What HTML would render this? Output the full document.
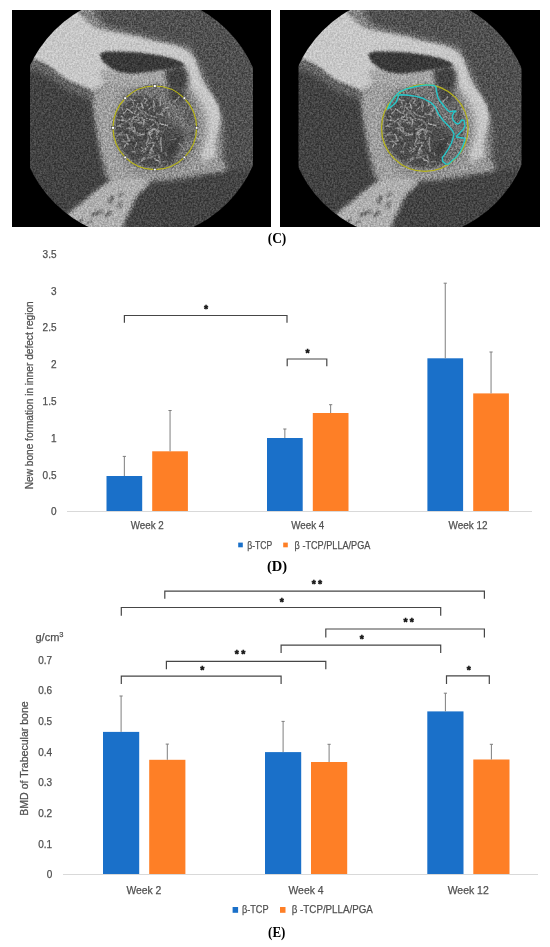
<!DOCTYPE html>
<html><head><meta charset="utf-8"><title>Figure</title>
<style>
html,body{margin:0;padding:0;background:#fff;}
body{width:550px;height:947px;overflow:hidden;}
svg{display:block;}
text{font-family:"Liberation Sans",Arial,sans-serif;}
.tk,.tk2,.yt,.wk,.lg{stroke:#505050;stroke-width:0.25px;}
.tk{font-size:10px;fill:#505050;text-anchor:end;}
.tk2{font-size:10px;fill:#505050;}
.yt{font-size:10px;fill:#505050;text-anchor:middle;}
.wk{font-size:10.4px;fill:#505050;text-anchor:middle;}
.lg{font-size:11px;fill:#505050;}
.st{font-size:10.5px;fill:#111;stroke:#111;stroke-width:0.5px;text-anchor:middle;font-weight:bold;}
.pl{font-family:"Liberation Serif","Times New Roman",serif;font-size:15.5px;font-weight:bold;fill:#000;}
</style></head><body>
<svg width="550" height="947" viewBox="0 0 550 947">
<defs><filter color-interpolation-filters="sRGB" id="Lb1_2" x="-50%" y="-50%" width="200%" height="200%"><feGaussianBlur stdDeviation="1.2"/></filter>
<filter color-interpolation-filters="sRGB" id="Lb1_3" x="-50%" y="-50%" width="200%" height="200%"><feGaussianBlur stdDeviation="1.3"/></filter>
<filter color-interpolation-filters="sRGB" id="Lb1_8" x="-50%" y="-50%" width="200%" height="200%"><feGaussianBlur stdDeviation="1.8"/></filter>
<filter color-interpolation-filters="sRGB" id="Lb2" x="-50%" y="-50%" width="200%" height="200%"><feGaussianBlur stdDeviation="2"/></filter>
<filter color-interpolation-filters="sRGB" id="Lb2_2" x="-50%" y="-50%" width="200%" height="200%"><feGaussianBlur stdDeviation="2.2"/></filter>
<filter color-interpolation-filters="sRGB" id="Lb2_5" x="-50%" y="-50%" width="200%" height="200%"><feGaussianBlur stdDeviation="2.5"/></filter>
<filter color-interpolation-filters="sRGB" id="Lb3" x="-50%" y="-50%" width="200%" height="200%"><feGaussianBlur stdDeviation="3"/></filter>
<filter color-interpolation-filters="sRGB" id="Lb4" x="-50%" y="-50%" width="200%" height="200%"><feGaussianBlur stdDeviation="4"/></filter>
<filter color-interpolation-filters="sRGB" id="Lsoft" x="-10%" y="-10%" width="120%" height="120%"><feGaussianBlur stdDeviation="0.7"/></filter><filter color-interpolation-filters="sRGB" id="Lnoise" x="0" y="0" width="100%" height="100%"><feTurbulence type="fractalNoise" baseFrequency="0.55" numOctaves="3" seed="5"/><feGaussianBlur stdDeviation="0.7"/><feColorMatrix type="matrix" values="0.33 0.33 0.33 0 0  0.33 0.33 0.33 0 0  0.33 0.33 0.33 0 0  0 0 0 0 1"/><feComponentTransfer><feFuncR type="linear" slope="4" intercept="-1.5"/><feFuncG type="linear" slope="4" intercept="-1.5"/><feFuncB type="linear" slope="4" intercept="-1.5"/></feComponentTransfer></filter></defs>
<rect x="12" y="10" width="259" height="217" fill="#000"/>
<clipPath id="Lclip"><path d="M30 10H253V227H30Z"/></clipPath>
<clipPath id="Ldisk"><circle cx="141" cy="116.6" r="122.2"/></clipPath>
<g clip-path="url(#Lclip)"><g clip-path="url(#Ldisk)"><g transform="translate(0 0)"><rect x="0" y="0" width="270" height="240" fill="#515151"/>
<polygon points="20.0,40.0 95.0,25.0 150.0,38.0 190.0,48.0 205.0,80.0 222.0,120.0 222.0,160.0 200.0,176.0 160.0,180.0 150.0,182.0 144.0,187.0 139.7,191.0 134.0,200.0 130.0,209.8 125.0,219.0 120.7,232.0 55.0,232.0 40.0,150.0" fill="#9c9c9c" filter="url(#Lb3)"/>
<polygon points="0.0,57.0 30.0,58.5 40.0,61.0 52.0,67.5 64.0,78.6 73.5,82.0 90.0,88.0 93.6,110.0 100.0,130.0 103.4,150.0 111.0,165.3 113.6,175.4 108.5,183.0 95.8,192.0 85.6,200.9 75.4,208.5 67.8,214.9 62.7,218.7 58.0,232.0 0.0,232.0" fill="#434343" filter="url(#Lb2)"/>
<polygon points="0.0,56.0 30.0,57.0 41.5,61.6 51.3,67.5 61.0,75.4 71.0,82.2 80.8,85.2 88.6,89.0 92.5,95.0 93.0,101.0 85.0,97.0 75.0,93.0 63.0,87.0 52.0,79.0 40.0,71.5 30.0,68.0 0.0,67.0" fill="#6c6c6c" filter="url(#Lb3)"/>
<polygon points="120.7,232.0 125.0,219.0 130.0,209.8 134.0,200.0 139.7,191.0 144.0,187.0 150.0,182.0 156.0,180.0 175.0,182.0 195.0,179.0 210.0,175.0 228.0,171.0 260.0,168.0 260.0,232.0" fill="#444444" filter="url(#Lb2_5)"/>
<polygon points="70.0,0.0 90.0,0.0 100.0,22.0 110.0,30.0 95.0,32.0 80.0,20.0" fill="#888888" filter="url(#Lb3)"/>
<polygon points="0.0,0.0 72.0,0.0 80.0,14.0 87.0,21.5 93.5,26.5 99.3,29.5 111.0,32.0 125.5,34.5 140.0,37.5 153.6,41.5 174.0,45.3 186.7,50.4 194.3,58.0 198.0,68.0 201.0,78.0 206.0,87.0 213.0,96.0 218.5,106.0 220.5,118.0 218.5,128.0 215.0,140.0 214.5,150.0 216.0,158.0 212.0,166.0 204.0,166.0 200.0,152.0 197.5,130.0 196.0,112.0 192.0,94.0 190.0,81.0 186.0,70.0 178.0,72.0 150.0,74.0 125.0,76.0 112.0,80.0 100.0,86.0 92.0,90.0 80.8,85.2 71.0,81.5 61.0,75.0 51.3,67.0 41.5,61.2 30.0,57.6 0.0,55.5" fill="#c8c8c8" filter="url(#Lb1_8)"/>
<circle cx="154.8" cy="127.8" r="52" fill="#949494" filter="url(#Lb3)"/>
<polygon points="98.0,92.0 118.0,86.0 120.0,110.0 116.0,140.0 122.0,165.0 135.0,178.0 150.0,182.0 140.0,192.0 120.0,190.0 106.0,176.0 100.0,150.0 95.0,120.0" fill="#a0a0a0" filter="url(#Lb2_5)"/>
<polygon points="58.0,232.0 62.7,218.7 67.8,214.9 75.4,208.5 85.6,200.9 95.8,192.0 103.6,185.8 115.0,180.0 130.0,178.0 150.0,180.0 144.0,187.0 139.7,191.0 134.0,200.0 130.0,209.8 125.0,219.0 120.7,232.0" fill="#b0b0b0" filter="url(#Lb2)"/>
<ellipse cx="97" cy="213" rx="7" ry="2.2" transform="rotate(-25 97 213)" fill="#707070" filter="url(#Lb1_2)"/>
<ellipse cx="111" cy="200" rx="2.5" ry="5" transform="rotate(20 111 200)" fill="#767676" filter="url(#Lb1_2)"/>
<ellipse cx="121" cy="194.5" rx="3.5" ry="1.8" transform="rotate(-30 121 194.5)" fill="#7a7a7a" filter="url(#Lb1_2)"/>
<ellipse cx="80" cy="221" rx="4" ry="1.5" transform="rotate(-30 80 221)" fill="#7a7a7a" filter="url(#Lb1_2)"/>
<ellipse cx="108" cy="214" rx="5" ry="2" transform="rotate(-35 108 214)" fill="#767676" filter="url(#Lb1_3)"/>
<ellipse cx="120" cy="205" rx="2.5" ry="4" transform="rotate(15 120 205)" fill="#7c7c7c" filter="url(#Lb1_3)"/>
<ellipse cx="90" cy="222" rx="3" ry="1.6" transform="rotate(-20 90 222)" fill="#7a7a7a" filter="url(#Lb1_3)"/>
<polygon points="100.0,70.0 112.0,70.0 150.0,72.0 170.0,70.0 176.0,80.0 170.0,88.0 150.0,87.0 130.0,87.0 115.0,88.0 104.0,84.0" fill="#a6a6a6" filter="url(#Lb2)"/>
<polygon points="164.0,70.0 180.0,66.0 186.0,68.0 188.0,78.0 185.0,90.0 176.0,93.0 168.0,87.0" fill="#434343" filter="url(#Lb2_2)"/>
<polygon points="99.6,55.6 102.0,52.8 105.9,51.5 122.3,51.6 140.5,52.5 158.6,55.3 171.4,58.0 180.5,61.5 184.5,64.5 182.3,67.5 167.7,69.2 149.5,72.0 131.4,73.8 118.6,72.0 109.5,67.5 103.2,62.0" fill="#3a3a3a" filter="url(#Lb1_3)"/>
<circle cx="154.8" cy="127.8" r="41" fill="#4e4e4e" filter="url(#Lb2)"/>
<ellipse cx="178" cy="110" rx="14" ry="18" fill="#686868" filter="url(#Lb4)"/>
<ellipse cx="175" cy="150" rx="10" ry="10" fill="#3e3e3e" filter="url(#Lb4)"/>
<ellipse cx="176" cy="95" rx="9" ry="7" fill="#424242" filter="url(#Lb3)"/>
<polygon points="119.1,108.9 123.5,106.2 127.9,101.8 129.5,97.4 130.0,95.3 133.3,94.7 139.9,95.3 147.5,96.4 155.1,98.5 156.5,99.5 162.0,102.3 166.5,106.8 170.1,114.1 174.7,120.5 180.1,125.9 183.8,130.5 185.6,134.1 184.7,137.7 182.9,143.2 180.1,148.6 176.5,154.1 173.8,157.7 174.2,161.4 177.4,164.1 180.1,164.1 183.8,160.5 188.3,156.8 192.0,151.4 194.7,145.0 196.5,139.5 196.0,138.2 192.9,137.7 188.3,137.3 187.9,136.4 191.0,133.2 194.7,129.5 196.5,125.9 195.6,120.5 193.3,120.0 191.0,123.2 189.2,124.1 186.5,122.3 184.2,119.5 183.8,115.9 185.6,112.3 187.4,111.4 186.5,110.9 181.0,111.8 178.3,109.5 174.7,105.0 171.0,100.5 169.2,96.8 168.3,92.3 167.4,86.8 165.5,85.5 157.3,84.9 147.5,86.5 138.5,88.7 131.1,92.0 126.5,96.4 122.5,101.8" fill="#767676" filter="url(#Lb2_5)"/>
<polygon points="205.0,160.0 215.0,157.0 224.0,162.0 228.0,168.0 222.0,172.0 210.0,173.0 200.0,172.0" fill="#9a9a9a" filter="url(#Lb2)"/><g filter="url(#Lsoft)" opacity="0.9"><line x1="138.1" y1="103.4" x2="136.5" y2="106.4" stroke="rgb(154,154,154)" stroke-width="1.3" stroke-linecap="round"/><line x1="154.6" y1="158.4" x2="157.3" y2="160.6" stroke="rgb(146,146,146)" stroke-width="1.2" stroke-linecap="round"/><line x1="122.1" y1="123.6" x2="119.0" y2="125.5" stroke="rgb(134,134,134)" stroke-width="1.6" stroke-linecap="round"/><line x1="153.4" y1="100.8" x2="154.8" y2="106.3" stroke="rgb(156,156,156)" stroke-width="1.4" stroke-linecap="round"/><line x1="160.2" y1="119.2" x2="159.8" y2="122.5" stroke="rgb(123,123,123)" stroke-width="1.6" stroke-linecap="round"/><line x1="151.8" y1="130.6" x2="147.7" y2="134.0" stroke="rgb(149,149,149)" stroke-width="1.4" stroke-linecap="round"/><line x1="133.2" y1="105.9" x2="130.6" y2="108.0" stroke="rgb(139,139,139)" stroke-width="1.5" stroke-linecap="round"/><line x1="141.7" y1="147.3" x2="146.5" y2="149.8" stroke="rgb(122,122,122)" stroke-width="1.8" stroke-linecap="round"/><line x1="122.4" y1="132.0" x2="116.8" y2="136.4" stroke="rgb(141,141,141)" stroke-width="1.6" stroke-linecap="round"/><line x1="156.3" y1="132.2" x2="157.3" y2="139.3" stroke="rgb(137,137,137)" stroke-width="1.5" stroke-linecap="round"/><line x1="122.1" y1="108.4" x2="124.5" y2="115.3" stroke="rgb(125,125,125)" stroke-width="1.3" stroke-linecap="round"/><line x1="140.6" y1="112.9" x2="145.3" y2="115.1" stroke="rgb(155,155,155)" stroke-width="1.4" stroke-linecap="round"/><line x1="147.5" y1="118.4" x2="140.3" y2="121.2" stroke="rgb(129,129,129)" stroke-width="1.2" stroke-linecap="round"/><line x1="121.3" y1="141.3" x2="128.5" y2="141.5" stroke="rgb(131,131,131)" stroke-width="1.4" stroke-linecap="round"/><line x1="143.8" y1="134.3" x2="137.4" y2="135.3" stroke="rgb(152,152,152)" stroke-width="1.8" stroke-linecap="round"/><line x1="160.7" y1="143.6" x2="161.7" y2="150.9" stroke="rgb(155,155,155)" stroke-width="1.4" stroke-linecap="round"/><line x1="143.4" y1="99.9" x2="142.0" y2="103.0" stroke="rgb(124,124,124)" stroke-width="1.8" stroke-linecap="round"/><line x1="146.3" y1="100.2" x2="145.2" y2="103.6" stroke="rgb(156,156,156)" stroke-width="1.3" stroke-linecap="round"/><line x1="117.6" y1="119.9" x2="125.0" y2="120.5" stroke="rgb(159,159,159)" stroke-width="1.4" stroke-linecap="round"/><line x1="160.5" y1="160.2" x2="158.8" y2="165.3" stroke="rgb(127,127,127)" stroke-width="1.7" stroke-linecap="round"/><line x1="140.3" y1="112.1" x2="137.0" y2="114.0" stroke="rgb(121,121,121)" stroke-width="1.3" stroke-linecap="round"/><line x1="160.5" y1="96.8" x2="160.1" y2="104.3" stroke="rgb(142,142,142)" stroke-width="1.7" stroke-linecap="round"/><line x1="151.3" y1="148.3" x2="153.4" y2="151.9" stroke="rgb(132,132,132)" stroke-width="1.7" stroke-linecap="round"/><line x1="149.7" y1="119.5" x2="152.8" y2="119.7" stroke="rgb(137,137,137)" stroke-width="1.5" stroke-linecap="round"/><line x1="126.3" y1="134.5" x2="129.6" y2="140.7" stroke="rgb(142,142,142)" stroke-width="1.8" stroke-linecap="round"/><line x1="138.7" y1="108.6" x2="141.8" y2="111.2" stroke="rgb(133,133,133)" stroke-width="1.5" stroke-linecap="round"/><line x1="167.7" y1="107.5" x2="162.8" y2="109.2" stroke="rgb(160,160,160)" stroke-width="1.4" stroke-linecap="round"/><line x1="145.8" y1="122.3" x2="139.2" y2="123.5" stroke="rgb(130,130,130)" stroke-width="1.8" stroke-linecap="round"/><line x1="148.5" y1="138.4" x2="146.5" y2="144.0" stroke="rgb(150,150,150)" stroke-width="1.6" stroke-linecap="round"/><line x1="137.8" y1="132.9" x2="140.6" y2="134.1" stroke="rgb(126,126,126)" stroke-width="1.5" stroke-linecap="round"/><line x1="135.7" y1="109.2" x2="134.5" y2="113.4" stroke="rgb(146,146,146)" stroke-width="1.7" stroke-linecap="round"/><line x1="152.9" y1="152.9" x2="149.5" y2="154.2" stroke="rgb(129,129,129)" stroke-width="1.5" stroke-linecap="round"/><line x1="152.7" y1="132.9" x2="149.9" y2="135.1" stroke="rgb(155,155,155)" stroke-width="1.2" stroke-linecap="round"/><line x1="117.3" y1="126.2" x2="124.8" y2="126.9" stroke="rgb(124,124,124)" stroke-width="1.5" stroke-linecap="round"/><line x1="158.2" y1="127.2" x2="158.0" y2="133.6" stroke="rgb(148,148,148)" stroke-width="1.5" stroke-linecap="round"/><line x1="155.4" y1="156.2" x2="148.0" y2="157.9" stroke="rgb(132,132,132)" stroke-width="1.7" stroke-linecap="round"/><line x1="144.6" y1="98.1" x2="147.1" y2="100.4" stroke="rgb(139,139,139)" stroke-width="1.7" stroke-linecap="round"/><line x1="165.2" y1="102.9" x2="157.9" y2="105.7" stroke="rgb(134,134,134)" stroke-width="1.6" stroke-linecap="round"/><line x1="123.2" y1="140.0" x2="128.2" y2="144.2" stroke="rgb(152,152,152)" stroke-width="1.4" stroke-linecap="round"/><line x1="142.0" y1="119.0" x2="146.6" y2="120.4" stroke="rgb(141,141,141)" stroke-width="1.5" stroke-linecap="round"/><line x1="155.0" y1="130.1" x2="162.8" y2="131.7" stroke="rgb(134,134,134)" stroke-width="1.8" stroke-linecap="round"/><line x1="132.6" y1="99.7" x2="134.4" y2="107.0" stroke="rgb(136,136,136)" stroke-width="1.4" stroke-linecap="round"/><line x1="152.6" y1="128.7" x2="152.7" y2="133.4" stroke="rgb(137,137,137)" stroke-width="1.2" stroke-linecap="round"/><line x1="159.8" y1="123.8" x2="167.3" y2="125.5" stroke="rgb(160,160,160)" stroke-width="1.3" stroke-linecap="round"/><line x1="131.1" y1="136.4" x2="134.4" y2="139.2" stroke="rgb(127,127,127)" stroke-width="1.5" stroke-linecap="round"/><line x1="140.5" y1="133.3" x2="136.3" y2="134.3" stroke="rgb(128,128,128)" stroke-width="1.2" stroke-linecap="round"/><line x1="167.2" y1="161.3" x2="162.9" y2="161.8" stroke="rgb(131,131,131)" stroke-width="1.3" stroke-linecap="round"/><line x1="138.1" y1="114.4" x2="134.8" y2="117.5" stroke="rgb(152,152,152)" stroke-width="1.6" stroke-linecap="round"/><line x1="135.1" y1="151.8" x2="131.9" y2="151.9" stroke="rgb(121,121,121)" stroke-width="1.6" stroke-linecap="round"/><line x1="153.4" y1="103.8" x2="154.0" y2="111.5" stroke="rgb(126,126,126)" stroke-width="1.6" stroke-linecap="round"/><line x1="161.3" y1="137.6" x2="160.3" y2="145.0" stroke="rgb(152,152,152)" stroke-width="1.4" stroke-linecap="round"/><line x1="126.5" y1="108.4" x2="132.5" y2="112.7" stroke="rgb(160,160,160)" stroke-width="1.3" stroke-linecap="round"/><line x1="158.7" y1="155.7" x2="159.4" y2="158.9" stroke="rgb(144,144,144)" stroke-width="1.7" stroke-linecap="round"/><line x1="160.7" y1="112.8" x2="163.9" y2="115.8" stroke="rgb(149,149,149)" stroke-width="1.3" stroke-linecap="round"/><line x1="142.5" y1="117.6" x2="137.9" y2="117.8" stroke="rgb(122,122,122)" stroke-width="1.8" stroke-linecap="round"/><line x1="133.8" y1="119.7" x2="138.7" y2="119.7" stroke="rgb(150,150,150)" stroke-width="1.4" stroke-linecap="round"/><line x1="162.6" y1="110.8" x2="159.9" y2="113.0" stroke="rgb(125,125,125)" stroke-width="1.3" stroke-linecap="round"/><line x1="154.4" y1="119.9" x2="158.1" y2="124.9" stroke="rgb(125,125,125)" stroke-width="1.6" stroke-linecap="round"/><line x1="153.7" y1="145.1" x2="150.5" y2="150.9" stroke="rgb(158,158,158)" stroke-width="1.4" stroke-linecap="round"/><line x1="125.5" y1="144.7" x2="124.1" y2="147.6" stroke="rgb(152,152,152)" stroke-width="1.6" stroke-linecap="round"/><line x1="154.8" y1="128.6" x2="148.7" y2="132.1" stroke="rgb(157,157,157)" stroke-width="1.7" stroke-linecap="round"/><line x1="158.9" y1="160.7" x2="160.9" y2="165.5" stroke="rgb(123,123,123)" stroke-width="1.6" stroke-linecap="round"/><line x1="159.0" y1="141.5" x2="159.1" y2="144.5" stroke="rgb(124,124,124)" stroke-width="1.6" stroke-linecap="round"/><line x1="151.0" y1="131.1" x2="149.4" y2="134.0" stroke="rgb(150,150,150)" stroke-width="1.4" stroke-linecap="round"/><line x1="150.8" y1="141.2" x2="146.2" y2="145.3" stroke="rgb(132,132,132)" stroke-width="1.2" stroke-linecap="round"/><line x1="126.2" y1="110.7" x2="123.1" y2="113.9" stroke="rgb(156,156,156)" stroke-width="1.3" stroke-linecap="round"/><line x1="150.5" y1="128.8" x2="147.0" y2="129.1" stroke="rgb(133,133,133)" stroke-width="1.6" stroke-linecap="round"/><line x1="134.6" y1="128.5" x2="135.2" y2="133.8" stroke="rgb(127,127,127)" stroke-width="1.8" stroke-linecap="round"/><line x1="150.9" y1="115.7" x2="156.1" y2="117.2" stroke="rgb(138,138,138)" stroke-width="1.5" stroke-linecap="round"/><line x1="143.3" y1="111.0" x2="149.4" y2="115.7" stroke="rgb(133,133,133)" stroke-width="1.2" stroke-linecap="round"/><line x1="133.8" y1="117.0" x2="131.9" y2="122.8" stroke="rgb(137,137,137)" stroke-width="1.7" stroke-linecap="round"/><line x1="167.2" y1="109.8" x2="162.1" y2="111.5" stroke="rgb(121,121,121)" stroke-width="1.3" stroke-linecap="round"/><line x1="121.5" y1="115.9" x2="123.9" y2="119.9" stroke="rgb(145,145,145)" stroke-width="1.3" stroke-linecap="round"/><line x1="179.2" y1="143.4" x2="182.2" y2="147.3" stroke="rgb(145,145,145)" stroke-width="1.4" stroke-linecap="round"/><line x1="179.3" y1="97.0" x2="174.0" y2="102.0" stroke="rgb(137,137,137)" stroke-width="1.3" stroke-linecap="round"/><line x1="131.1" y1="129.4" x2="135.1" y2="132.2" stroke="rgb(147,147,147)" stroke-width="1.7" stroke-linecap="round"/><line x1="175.3" y1="138.9" x2="169.6" y2="140.0" stroke="rgb(125,125,125)" stroke-width="1.2" stroke-linecap="round"/><line x1="156.6" y1="114.0" x2="164.2" y2="115.2" stroke="rgb(128,128,128)" stroke-width="1.3" stroke-linecap="round"/><line x1="141.5" y1="111.9" x2="146.2" y2="116.7" stroke="rgb(136,136,136)" stroke-width="1.4" stroke-linecap="round"/><line x1="132.1" y1="127.2" x2="130.3" y2="130.3" stroke="rgb(130,130,130)" stroke-width="1.2" stroke-linecap="round"/><line x1="150.5" y1="149.9" x2="149.6" y2="155.1" stroke="rgb(141,141,141)" stroke-width="1.8" stroke-linecap="round"/><line x1="145.0" y1="103.1" x2="147.8" y2="105.0" stroke="rgb(141,141,141)" stroke-width="1.5" stroke-linecap="round"/><line x1="138.6" y1="119.4" x2="135.3" y2="121.6" stroke="rgb(121,121,121)" stroke-width="1.6" stroke-linecap="round"/><line x1="143.9" y1="121.4" x2="143.5" y2="126.2" stroke="rgb(141,141,141)" stroke-width="1.7" stroke-linecap="round"/><line x1="148.5" y1="132.4" x2="151.2" y2="138.3" stroke="rgb(153,153,153)" stroke-width="1.6" stroke-linecap="round"/><line x1="131.2" y1="119.0" x2="132.5" y2="126.6" stroke="rgb(121,121,121)" stroke-width="1.3" stroke-linecap="round"/><line x1="147.8" y1="146.7" x2="141.4" y2="151.2" stroke="rgb(151,151,151)" stroke-width="1.2" stroke-linecap="round"/><line x1="145.3" y1="158.8" x2="139.1" y2="162.6" stroke="rgb(148,148,148)" stroke-width="1.3" stroke-linecap="round"/><line x1="154.9" y1="142.5" x2="148.4" y2="143.7" stroke="rgb(149,149,149)" stroke-width="1.3" stroke-linecap="round"/><line x1="119.8" y1="134.6" x2="126.3" y2="135.4" stroke="rgb(128,128,128)" stroke-width="1.6" stroke-linecap="round"/><line x1="153.3" y1="124.3" x2="150.7" y2="126.7" stroke="rgb(139,139,139)" stroke-width="1.5" stroke-linecap="round"/><line x1="153.7" y1="120.0" x2="158.3" y2="123.9" stroke="rgb(120,120,120)" stroke-width="1.5" stroke-linecap="round"/><line x1="129.3" y1="122.0" x2="131.5" y2="127.1" stroke="rgb(141,141,141)" stroke-width="1.6" stroke-linecap="round"/><line x1="137.9" y1="122.5" x2="142.3" y2="122.6" stroke="rgb(152,152,152)" stroke-width="1.2" stroke-linecap="round"/><line x1="151.2" y1="107.1" x2="148.2" y2="109.8" stroke="rgb(149,149,149)" stroke-width="1.3" stroke-linecap="round"/><line x1="168.7" y1="113.3" x2="168.8" y2="117.2" stroke="rgb(134,134,134)" stroke-width="1.5" stroke-linecap="round"/><line x1="155.3" y1="160.1" x2="158.4" y2="160.6" stroke="rgb(158,158,158)" stroke-width="1.3" stroke-linecap="round"/><line x1="145.4" y1="157.5" x2="139.2" y2="159.9" stroke="rgb(125,125,125)" stroke-width="1.8" stroke-linecap="round"/><line x1="141.0" y1="106.7" x2="134.4" y2="108.0" stroke="rgb(122,122,122)" stroke-width="1.4" stroke-linecap="round"/><line x1="165.9" y1="152.7" x2="166.5" y2="156.2" stroke="rgb(125,125,125)" stroke-width="1.4" stroke-linecap="round"/><line x1="131.9" y1="117.8" x2="125.9" y2="121.6" stroke="rgb(147,147,147)" stroke-width="1.3" stroke-linecap="round"/><line x1="165.1" y1="105.5" x2="164.4" y2="110.7" stroke="rgb(140,140,140)" stroke-width="1.4" stroke-linecap="round"/><line x1="144.8" y1="151.4" x2="142.4" y2="153.5" stroke="rgb(122,122,122)" stroke-width="1.5" stroke-linecap="round"/><line x1="141.7" y1="117.9" x2="138.5" y2="118.4" stroke="rgb(140,140,140)" stroke-width="1.8" stroke-linecap="round"/><line x1="136.5" y1="142.6" x2="134.4" y2="149.3" stroke="rgb(124,124,124)" stroke-width="1.2" stroke-linecap="round"/><line x1="134.7" y1="127.7" x2="127.0" y2="128.7" stroke="rgb(144,144,144)" stroke-width="1.7" stroke-linecap="round"/><line x1="147.9" y1="92.0" x2="151.6" y2="97.3" stroke="rgb(129,129,129)" stroke-width="1.6" stroke-linecap="round"/><line x1="136.1" y1="113.9" x2="139.1" y2="120.1" stroke="rgb(125,125,125)" stroke-width="1.5" stroke-linecap="round"/><line x1="141.3" y1="102.5" x2="143.1" y2="108.5" stroke="rgb(150,150,150)" stroke-width="1.5" stroke-linecap="round"/><line x1="130.5" y1="99.2" x2="135.7" y2="100.9" stroke="rgb(148,148,148)" stroke-width="1.3" stroke-linecap="round"/></g><rect x="0" y="0" width="270" height="240" fill="#808080" filter="url(#Lnoise)" style="mix-blend-mode:overlay" opacity="0.3"/></g></g></g>
<circle cx="154.8" cy="127.8" r="41.8" fill="none" stroke="#b7b418" stroke-width="1.2"/><rect x="195.3" y="126.5" width="2.6" height="2.6" fill="#fff" stroke="#333" stroke-width="0.5"/><rect x="183.1" y="156.1" width="2.6" height="2.6" fill="#fff" stroke="#333" stroke-width="0.5"/><rect x="153.5" y="168.3" width="2.6" height="2.6" fill="#fff" stroke="#333" stroke-width="0.5"/><rect x="123.9" y="156.1" width="2.6" height="2.6" fill="#fff" stroke="#333" stroke-width="0.5"/><rect x="111.7" y="126.5" width="2.6" height="2.6" fill="#fff" stroke="#333" stroke-width="0.5"/><rect x="123.9" y="96.9" width="2.6" height="2.6" fill="#fff" stroke="#333" stroke-width="0.5"/><rect x="153.5" y="84.7" width="2.6" height="2.6" fill="#fff" stroke="#333" stroke-width="0.5"/><rect x="183.1" y="96.9" width="2.6" height="2.6" fill="#fff" stroke="#333" stroke-width="0.5"/><rect x="280" y="10" width="260" height="217" fill="#000"/>
<clipPath id="Rclip"><path d="M298.5 10H521.5V227H298.5Z"/></clipPath>
<clipPath id="Rdisk"><circle cx="409.5" cy="116.6" r="122.2"/></clipPath>
<g clip-path="url(#Rclip)"><g clip-path="url(#Rdisk)"><g transform="translate(268.5 0)"><rect x="0" y="0" width="270" height="240" fill="#515151"/>
<polygon points="20.0,40.0 95.0,25.0 150.0,38.0 190.0,48.0 205.0,80.0 222.0,120.0 222.0,160.0 200.0,176.0 160.0,180.0 150.0,182.0 144.0,187.0 139.7,191.0 134.0,200.0 130.0,209.8 125.0,219.0 120.7,232.0 55.0,232.0 40.0,150.0" fill="#9c9c9c" filter="url(#Lb3)"/>
<polygon points="0.0,57.0 30.0,58.5 40.0,61.0 52.0,67.5 64.0,78.6 73.5,82.0 90.0,88.0 93.6,110.0 100.0,130.0 103.4,150.0 111.0,165.3 113.6,175.4 108.5,183.0 95.8,192.0 85.6,200.9 75.4,208.5 67.8,214.9 62.7,218.7 58.0,232.0 0.0,232.0" fill="#434343" filter="url(#Lb2)"/>
<polygon points="0.0,56.0 30.0,57.0 41.5,61.6 51.3,67.5 61.0,75.4 71.0,82.2 80.8,85.2 88.6,89.0 92.5,95.0 93.0,101.0 85.0,97.0 75.0,93.0 63.0,87.0 52.0,79.0 40.0,71.5 30.0,68.0 0.0,67.0" fill="#6c6c6c" filter="url(#Lb3)"/>
<polygon points="120.7,232.0 125.0,219.0 130.0,209.8 134.0,200.0 139.7,191.0 144.0,187.0 150.0,182.0 156.0,180.0 175.0,182.0 195.0,179.0 210.0,175.0 228.0,171.0 260.0,168.0 260.0,232.0" fill="#444444" filter="url(#Lb2_5)"/>
<polygon points="70.0,0.0 90.0,0.0 100.0,22.0 110.0,30.0 95.0,32.0 80.0,20.0" fill="#888888" filter="url(#Lb3)"/>
<polygon points="0.0,0.0 72.0,0.0 80.0,14.0 87.0,21.5 93.5,26.5 99.3,29.5 111.0,32.0 125.5,34.5 140.0,37.5 153.6,41.5 174.0,45.3 186.7,50.4 194.3,58.0 198.0,68.0 201.0,78.0 206.0,87.0 213.0,96.0 218.5,106.0 220.5,118.0 218.5,128.0 215.0,140.0 214.5,150.0 216.0,158.0 212.0,166.0 204.0,166.0 200.0,152.0 197.5,130.0 196.0,112.0 192.0,94.0 190.0,81.0 186.0,70.0 178.0,72.0 150.0,74.0 125.0,76.0 112.0,80.0 100.0,86.0 92.0,90.0 80.8,85.2 71.0,81.5 61.0,75.0 51.3,67.0 41.5,61.2 30.0,57.6 0.0,55.5" fill="#c8c8c8" filter="url(#Lb1_8)"/>
<circle cx="154.8" cy="127.8" r="52" fill="#949494" filter="url(#Lb3)"/>
<polygon points="98.0,92.0 118.0,86.0 120.0,110.0 116.0,140.0 122.0,165.0 135.0,178.0 150.0,182.0 140.0,192.0 120.0,190.0 106.0,176.0 100.0,150.0 95.0,120.0" fill="#a0a0a0" filter="url(#Lb2_5)"/>
<polygon points="58.0,232.0 62.7,218.7 67.8,214.9 75.4,208.5 85.6,200.9 95.8,192.0 103.6,185.8 115.0,180.0 130.0,178.0 150.0,180.0 144.0,187.0 139.7,191.0 134.0,200.0 130.0,209.8 125.0,219.0 120.7,232.0" fill="#b0b0b0" filter="url(#Lb2)"/>
<ellipse cx="97" cy="213" rx="7" ry="2.2" transform="rotate(-25 97 213)" fill="#707070" filter="url(#Lb1_2)"/>
<ellipse cx="111" cy="200" rx="2.5" ry="5" transform="rotate(20 111 200)" fill="#767676" filter="url(#Lb1_2)"/>
<ellipse cx="121" cy="194.5" rx="3.5" ry="1.8" transform="rotate(-30 121 194.5)" fill="#7a7a7a" filter="url(#Lb1_2)"/>
<ellipse cx="80" cy="221" rx="4" ry="1.5" transform="rotate(-30 80 221)" fill="#7a7a7a" filter="url(#Lb1_2)"/>
<ellipse cx="108" cy="214" rx="5" ry="2" transform="rotate(-35 108 214)" fill="#767676" filter="url(#Lb1_3)"/>
<ellipse cx="120" cy="205" rx="2.5" ry="4" transform="rotate(15 120 205)" fill="#7c7c7c" filter="url(#Lb1_3)"/>
<ellipse cx="90" cy="222" rx="3" ry="1.6" transform="rotate(-20 90 222)" fill="#7a7a7a" filter="url(#Lb1_3)"/>
<polygon points="100.0,70.0 112.0,70.0 150.0,72.0 170.0,70.0 176.0,80.0 170.0,88.0 150.0,87.0 130.0,87.0 115.0,88.0 104.0,84.0" fill="#a6a6a6" filter="url(#Lb2)"/>
<polygon points="164.0,70.0 180.0,66.0 186.0,68.0 188.0,78.0 185.0,90.0 176.0,93.0 168.0,87.0" fill="#434343" filter="url(#Lb2_2)"/>
<polygon points="99.6,55.6 102.0,52.8 105.9,51.5 122.3,51.6 140.5,52.5 158.6,55.3 171.4,58.0 180.5,61.5 184.5,64.5 182.3,67.5 167.7,69.2 149.5,72.0 131.4,73.8 118.6,72.0 109.5,67.5 103.2,62.0" fill="#3a3a3a" filter="url(#Lb1_3)"/>
<circle cx="154.8" cy="127.8" r="41" fill="#4e4e4e" filter="url(#Lb2)"/>
<ellipse cx="178" cy="110" rx="14" ry="18" fill="#686868" filter="url(#Lb4)"/>
<ellipse cx="175" cy="150" rx="10" ry="10" fill="#3e3e3e" filter="url(#Lb4)"/>
<ellipse cx="176" cy="95" rx="9" ry="7" fill="#424242" filter="url(#Lb3)"/>
<polygon points="119.1,108.9 123.5,106.2 127.9,101.8 129.5,97.4 130.0,95.3 133.3,94.7 139.9,95.3 147.5,96.4 155.1,98.5 156.5,99.5 162.0,102.3 166.5,106.8 170.1,114.1 174.7,120.5 180.1,125.9 183.8,130.5 185.6,134.1 184.7,137.7 182.9,143.2 180.1,148.6 176.5,154.1 173.8,157.7 174.2,161.4 177.4,164.1 180.1,164.1 183.8,160.5 188.3,156.8 192.0,151.4 194.7,145.0 196.5,139.5 196.0,138.2 192.9,137.7 188.3,137.3 187.9,136.4 191.0,133.2 194.7,129.5 196.5,125.9 195.6,120.5 193.3,120.0 191.0,123.2 189.2,124.1 186.5,122.3 184.2,119.5 183.8,115.9 185.6,112.3 187.4,111.4 186.5,110.9 181.0,111.8 178.3,109.5 174.7,105.0 171.0,100.5 169.2,96.8 168.3,92.3 167.4,86.8 165.5,85.5 157.3,84.9 147.5,86.5 138.5,88.7 131.1,92.0 126.5,96.4 122.5,101.8" fill="#767676" filter="url(#Lb2_5)"/>
<polygon points="205.0,160.0 215.0,157.0 224.0,162.0 228.0,168.0 222.0,172.0 210.0,173.0 200.0,172.0" fill="#9a9a9a" filter="url(#Lb2)"/><g filter="url(#Lsoft)" opacity="0.9"><line x1="138.1" y1="103.4" x2="136.5" y2="106.4" stroke="rgb(154,154,154)" stroke-width="1.3" stroke-linecap="round"/><line x1="154.6" y1="158.4" x2="157.3" y2="160.6" stroke="rgb(146,146,146)" stroke-width="1.2" stroke-linecap="round"/><line x1="122.1" y1="123.6" x2="119.0" y2="125.5" stroke="rgb(134,134,134)" stroke-width="1.6" stroke-linecap="round"/><line x1="153.4" y1="100.8" x2="154.8" y2="106.3" stroke="rgb(156,156,156)" stroke-width="1.4" stroke-linecap="round"/><line x1="160.2" y1="119.2" x2="159.8" y2="122.5" stroke="rgb(123,123,123)" stroke-width="1.6" stroke-linecap="round"/><line x1="151.8" y1="130.6" x2="147.7" y2="134.0" stroke="rgb(149,149,149)" stroke-width="1.4" stroke-linecap="round"/><line x1="133.2" y1="105.9" x2="130.6" y2="108.0" stroke="rgb(139,139,139)" stroke-width="1.5" stroke-linecap="round"/><line x1="141.7" y1="147.3" x2="146.5" y2="149.8" stroke="rgb(122,122,122)" stroke-width="1.8" stroke-linecap="round"/><line x1="122.4" y1="132.0" x2="116.8" y2="136.4" stroke="rgb(141,141,141)" stroke-width="1.6" stroke-linecap="round"/><line x1="156.3" y1="132.2" x2="157.3" y2="139.3" stroke="rgb(137,137,137)" stroke-width="1.5" stroke-linecap="round"/><line x1="122.1" y1="108.4" x2="124.5" y2="115.3" stroke="rgb(125,125,125)" stroke-width="1.3" stroke-linecap="round"/><line x1="140.6" y1="112.9" x2="145.3" y2="115.1" stroke="rgb(155,155,155)" stroke-width="1.4" stroke-linecap="round"/><line x1="147.5" y1="118.4" x2="140.3" y2="121.2" stroke="rgb(129,129,129)" stroke-width="1.2" stroke-linecap="round"/><line x1="121.3" y1="141.3" x2="128.5" y2="141.5" stroke="rgb(131,131,131)" stroke-width="1.4" stroke-linecap="round"/><line x1="143.8" y1="134.3" x2="137.4" y2="135.3" stroke="rgb(152,152,152)" stroke-width="1.8" stroke-linecap="round"/><line x1="160.7" y1="143.6" x2="161.7" y2="150.9" stroke="rgb(155,155,155)" stroke-width="1.4" stroke-linecap="round"/><line x1="143.4" y1="99.9" x2="142.0" y2="103.0" stroke="rgb(124,124,124)" stroke-width="1.8" stroke-linecap="round"/><line x1="146.3" y1="100.2" x2="145.2" y2="103.6" stroke="rgb(156,156,156)" stroke-width="1.3" stroke-linecap="round"/><line x1="117.6" y1="119.9" x2="125.0" y2="120.5" stroke="rgb(159,159,159)" stroke-width="1.4" stroke-linecap="round"/><line x1="160.5" y1="160.2" x2="158.8" y2="165.3" stroke="rgb(127,127,127)" stroke-width="1.7" stroke-linecap="round"/><line x1="140.3" y1="112.1" x2="137.0" y2="114.0" stroke="rgb(121,121,121)" stroke-width="1.3" stroke-linecap="round"/><line x1="160.5" y1="96.8" x2="160.1" y2="104.3" stroke="rgb(142,142,142)" stroke-width="1.7" stroke-linecap="round"/><line x1="151.3" y1="148.3" x2="153.4" y2="151.9" stroke="rgb(132,132,132)" stroke-width="1.7" stroke-linecap="round"/><line x1="149.7" y1="119.5" x2="152.8" y2="119.7" stroke="rgb(137,137,137)" stroke-width="1.5" stroke-linecap="round"/><line x1="126.3" y1="134.5" x2="129.6" y2="140.7" stroke="rgb(142,142,142)" stroke-width="1.8" stroke-linecap="round"/><line x1="138.7" y1="108.6" x2="141.8" y2="111.2" stroke="rgb(133,133,133)" stroke-width="1.5" stroke-linecap="round"/><line x1="167.7" y1="107.5" x2="162.8" y2="109.2" stroke="rgb(160,160,160)" stroke-width="1.4" stroke-linecap="round"/><line x1="145.8" y1="122.3" x2="139.2" y2="123.5" stroke="rgb(130,130,130)" stroke-width="1.8" stroke-linecap="round"/><line x1="148.5" y1="138.4" x2="146.5" y2="144.0" stroke="rgb(150,150,150)" stroke-width="1.6" stroke-linecap="round"/><line x1="137.8" y1="132.9" x2="140.6" y2="134.1" stroke="rgb(126,126,126)" stroke-width="1.5" stroke-linecap="round"/><line x1="135.7" y1="109.2" x2="134.5" y2="113.4" stroke="rgb(146,146,146)" stroke-width="1.7" stroke-linecap="round"/><line x1="152.9" y1="152.9" x2="149.5" y2="154.2" stroke="rgb(129,129,129)" stroke-width="1.5" stroke-linecap="round"/><line x1="152.7" y1="132.9" x2="149.9" y2="135.1" stroke="rgb(155,155,155)" stroke-width="1.2" stroke-linecap="round"/><line x1="117.3" y1="126.2" x2="124.8" y2="126.9" stroke="rgb(124,124,124)" stroke-width="1.5" stroke-linecap="round"/><line x1="158.2" y1="127.2" x2="158.0" y2="133.6" stroke="rgb(148,148,148)" stroke-width="1.5" stroke-linecap="round"/><line x1="155.4" y1="156.2" x2="148.0" y2="157.9" stroke="rgb(132,132,132)" stroke-width="1.7" stroke-linecap="round"/><line x1="144.6" y1="98.1" x2="147.1" y2="100.4" stroke="rgb(139,139,139)" stroke-width="1.7" stroke-linecap="round"/><line x1="165.2" y1="102.9" x2="157.9" y2="105.7" stroke="rgb(134,134,134)" stroke-width="1.6" stroke-linecap="round"/><line x1="123.2" y1="140.0" x2="128.2" y2="144.2" stroke="rgb(152,152,152)" stroke-width="1.4" stroke-linecap="round"/><line x1="142.0" y1="119.0" x2="146.6" y2="120.4" stroke="rgb(141,141,141)" stroke-width="1.5" stroke-linecap="round"/><line x1="155.0" y1="130.1" x2="162.8" y2="131.7" stroke="rgb(134,134,134)" stroke-width="1.8" stroke-linecap="round"/><line x1="132.6" y1="99.7" x2="134.4" y2="107.0" stroke="rgb(136,136,136)" stroke-width="1.4" stroke-linecap="round"/><line x1="152.6" y1="128.7" x2="152.7" y2="133.4" stroke="rgb(137,137,137)" stroke-width="1.2" stroke-linecap="round"/><line x1="159.8" y1="123.8" x2="167.3" y2="125.5" stroke="rgb(160,160,160)" stroke-width="1.3" stroke-linecap="round"/><line x1="131.1" y1="136.4" x2="134.4" y2="139.2" stroke="rgb(127,127,127)" stroke-width="1.5" stroke-linecap="round"/><line x1="140.5" y1="133.3" x2="136.3" y2="134.3" stroke="rgb(128,128,128)" stroke-width="1.2" stroke-linecap="round"/><line x1="167.2" y1="161.3" x2="162.9" y2="161.8" stroke="rgb(131,131,131)" stroke-width="1.3" stroke-linecap="round"/><line x1="138.1" y1="114.4" x2="134.8" y2="117.5" stroke="rgb(152,152,152)" stroke-width="1.6" stroke-linecap="round"/><line x1="135.1" y1="151.8" x2="131.9" y2="151.9" stroke="rgb(121,121,121)" stroke-width="1.6" stroke-linecap="round"/><line x1="153.4" y1="103.8" x2="154.0" y2="111.5" stroke="rgb(126,126,126)" stroke-width="1.6" stroke-linecap="round"/><line x1="161.3" y1="137.6" x2="160.3" y2="145.0" stroke="rgb(152,152,152)" stroke-width="1.4" stroke-linecap="round"/><line x1="126.5" y1="108.4" x2="132.5" y2="112.7" stroke="rgb(160,160,160)" stroke-width="1.3" stroke-linecap="round"/><line x1="158.7" y1="155.7" x2="159.4" y2="158.9" stroke="rgb(144,144,144)" stroke-width="1.7" stroke-linecap="round"/><line x1="160.7" y1="112.8" x2="163.9" y2="115.8" stroke="rgb(149,149,149)" stroke-width="1.3" stroke-linecap="round"/><line x1="142.5" y1="117.6" x2="137.9" y2="117.8" stroke="rgb(122,122,122)" stroke-width="1.8" stroke-linecap="round"/><line x1="133.8" y1="119.7" x2="138.7" y2="119.7" stroke="rgb(150,150,150)" stroke-width="1.4" stroke-linecap="round"/><line x1="162.6" y1="110.8" x2="159.9" y2="113.0" stroke="rgb(125,125,125)" stroke-width="1.3" stroke-linecap="round"/><line x1="154.4" y1="119.9" x2="158.1" y2="124.9" stroke="rgb(125,125,125)" stroke-width="1.6" stroke-linecap="round"/><line x1="153.7" y1="145.1" x2="150.5" y2="150.9" stroke="rgb(158,158,158)" stroke-width="1.4" stroke-linecap="round"/><line x1="125.5" y1="144.7" x2="124.1" y2="147.6" stroke="rgb(152,152,152)" stroke-width="1.6" stroke-linecap="round"/><line x1="154.8" y1="128.6" x2="148.7" y2="132.1" stroke="rgb(157,157,157)" stroke-width="1.7" stroke-linecap="round"/><line x1="158.9" y1="160.7" x2="160.9" y2="165.5" stroke="rgb(123,123,123)" stroke-width="1.6" stroke-linecap="round"/><line x1="159.0" y1="141.5" x2="159.1" y2="144.5" stroke="rgb(124,124,124)" stroke-width="1.6" stroke-linecap="round"/><line x1="151.0" y1="131.1" x2="149.4" y2="134.0" stroke="rgb(150,150,150)" stroke-width="1.4" stroke-linecap="round"/><line x1="150.8" y1="141.2" x2="146.2" y2="145.3" stroke="rgb(132,132,132)" stroke-width="1.2" stroke-linecap="round"/><line x1="126.2" y1="110.7" x2="123.1" y2="113.9" stroke="rgb(156,156,156)" stroke-width="1.3" stroke-linecap="round"/><line x1="150.5" y1="128.8" x2="147.0" y2="129.1" stroke="rgb(133,133,133)" stroke-width="1.6" stroke-linecap="round"/><line x1="134.6" y1="128.5" x2="135.2" y2="133.8" stroke="rgb(127,127,127)" stroke-width="1.8" stroke-linecap="round"/><line x1="150.9" y1="115.7" x2="156.1" y2="117.2" stroke="rgb(138,138,138)" stroke-width="1.5" stroke-linecap="round"/><line x1="143.3" y1="111.0" x2="149.4" y2="115.7" stroke="rgb(133,133,133)" stroke-width="1.2" stroke-linecap="round"/><line x1="133.8" y1="117.0" x2="131.9" y2="122.8" stroke="rgb(137,137,137)" stroke-width="1.7" stroke-linecap="round"/><line x1="167.2" y1="109.8" x2="162.1" y2="111.5" stroke="rgb(121,121,121)" stroke-width="1.3" stroke-linecap="round"/><line x1="121.5" y1="115.9" x2="123.9" y2="119.9" stroke="rgb(145,145,145)" stroke-width="1.3" stroke-linecap="round"/><line x1="179.2" y1="143.4" x2="182.2" y2="147.3" stroke="rgb(145,145,145)" stroke-width="1.4" stroke-linecap="round"/><line x1="179.3" y1="97.0" x2="174.0" y2="102.0" stroke="rgb(137,137,137)" stroke-width="1.3" stroke-linecap="round"/><line x1="131.1" y1="129.4" x2="135.1" y2="132.2" stroke="rgb(147,147,147)" stroke-width="1.7" stroke-linecap="round"/><line x1="175.3" y1="138.9" x2="169.6" y2="140.0" stroke="rgb(125,125,125)" stroke-width="1.2" stroke-linecap="round"/><line x1="156.6" y1="114.0" x2="164.2" y2="115.2" stroke="rgb(128,128,128)" stroke-width="1.3" stroke-linecap="round"/><line x1="141.5" y1="111.9" x2="146.2" y2="116.7" stroke="rgb(136,136,136)" stroke-width="1.4" stroke-linecap="round"/><line x1="132.1" y1="127.2" x2="130.3" y2="130.3" stroke="rgb(130,130,130)" stroke-width="1.2" stroke-linecap="round"/><line x1="150.5" y1="149.9" x2="149.6" y2="155.1" stroke="rgb(141,141,141)" stroke-width="1.8" stroke-linecap="round"/><line x1="145.0" y1="103.1" x2="147.8" y2="105.0" stroke="rgb(141,141,141)" stroke-width="1.5" stroke-linecap="round"/><line x1="138.6" y1="119.4" x2="135.3" y2="121.6" stroke="rgb(121,121,121)" stroke-width="1.6" stroke-linecap="round"/><line x1="143.9" y1="121.4" x2="143.5" y2="126.2" stroke="rgb(141,141,141)" stroke-width="1.7" stroke-linecap="round"/><line x1="148.5" y1="132.4" x2="151.2" y2="138.3" stroke="rgb(153,153,153)" stroke-width="1.6" stroke-linecap="round"/><line x1="131.2" y1="119.0" x2="132.5" y2="126.6" stroke="rgb(121,121,121)" stroke-width="1.3" stroke-linecap="round"/><line x1="147.8" y1="146.7" x2="141.4" y2="151.2" stroke="rgb(151,151,151)" stroke-width="1.2" stroke-linecap="round"/><line x1="145.3" y1="158.8" x2="139.1" y2="162.6" stroke="rgb(148,148,148)" stroke-width="1.3" stroke-linecap="round"/><line x1="154.9" y1="142.5" x2="148.4" y2="143.7" stroke="rgb(149,149,149)" stroke-width="1.3" stroke-linecap="round"/><line x1="119.8" y1="134.6" x2="126.3" y2="135.4" stroke="rgb(128,128,128)" stroke-width="1.6" stroke-linecap="round"/><line x1="153.3" y1="124.3" x2="150.7" y2="126.7" stroke="rgb(139,139,139)" stroke-width="1.5" stroke-linecap="round"/><line x1="153.7" y1="120.0" x2="158.3" y2="123.9" stroke="rgb(120,120,120)" stroke-width="1.5" stroke-linecap="round"/><line x1="129.3" y1="122.0" x2="131.5" y2="127.1" stroke="rgb(141,141,141)" stroke-width="1.6" stroke-linecap="round"/><line x1="137.9" y1="122.5" x2="142.3" y2="122.6" stroke="rgb(152,152,152)" stroke-width="1.2" stroke-linecap="round"/><line x1="151.2" y1="107.1" x2="148.2" y2="109.8" stroke="rgb(149,149,149)" stroke-width="1.3" stroke-linecap="round"/><line x1="168.7" y1="113.3" x2="168.8" y2="117.2" stroke="rgb(134,134,134)" stroke-width="1.5" stroke-linecap="round"/><line x1="155.3" y1="160.1" x2="158.4" y2="160.6" stroke="rgb(158,158,158)" stroke-width="1.3" stroke-linecap="round"/><line x1="145.4" y1="157.5" x2="139.2" y2="159.9" stroke="rgb(125,125,125)" stroke-width="1.8" stroke-linecap="round"/><line x1="141.0" y1="106.7" x2="134.4" y2="108.0" stroke="rgb(122,122,122)" stroke-width="1.4" stroke-linecap="round"/><line x1="165.9" y1="152.7" x2="166.5" y2="156.2" stroke="rgb(125,125,125)" stroke-width="1.4" stroke-linecap="round"/><line x1="131.9" y1="117.8" x2="125.9" y2="121.6" stroke="rgb(147,147,147)" stroke-width="1.3" stroke-linecap="round"/><line x1="165.1" y1="105.5" x2="164.4" y2="110.7" stroke="rgb(140,140,140)" stroke-width="1.4" stroke-linecap="round"/><line x1="144.8" y1="151.4" x2="142.4" y2="153.5" stroke="rgb(122,122,122)" stroke-width="1.5" stroke-linecap="round"/><line x1="141.7" y1="117.9" x2="138.5" y2="118.4" stroke="rgb(140,140,140)" stroke-width="1.8" stroke-linecap="round"/><line x1="136.5" y1="142.6" x2="134.4" y2="149.3" stroke="rgb(124,124,124)" stroke-width="1.2" stroke-linecap="round"/><line x1="134.7" y1="127.7" x2="127.0" y2="128.7" stroke="rgb(144,144,144)" stroke-width="1.7" stroke-linecap="round"/><line x1="147.9" y1="92.0" x2="151.6" y2="97.3" stroke="rgb(129,129,129)" stroke-width="1.6" stroke-linecap="round"/><line x1="136.1" y1="113.9" x2="139.1" y2="120.1" stroke="rgb(125,125,125)" stroke-width="1.5" stroke-linecap="round"/><line x1="141.3" y1="102.5" x2="143.1" y2="108.5" stroke="rgb(150,150,150)" stroke-width="1.5" stroke-linecap="round"/><line x1="130.5" y1="99.2" x2="135.7" y2="100.9" stroke="rgb(148,148,148)" stroke-width="1.3" stroke-linecap="round"/></g><rect x="0" y="0" width="270" height="240" fill="#808080" filter="url(#Lnoise)" style="mix-blend-mode:overlay" opacity="0.3"/></g></g></g>
<circle cx="424.8" cy="128" r="43.3" fill="none" stroke="#b7b418" stroke-width="1.2"/><path d="M387.6 108.9 L392.0 106.2 L396.4 101.8 L398.0 97.4 L398.5 95.3 L401.8 94.7 L408.4 95.3 L416.0 96.4 L423.6 98.5 L425.0 99.5 L430.5 102.3 L435.0 106.8 L438.6 114.1 L443.2 120.5 L448.6 125.9 L452.3 130.5 L454.1 134.1 L453.2 137.7 L451.4 143.2 L448.6 148.6 L445.0 154.1 L442.3 157.7 L442.7 161.4 L445.9 164.1 L448.6 164.1 L452.3 160.5 L456.8 156.8 L460.5 151.4 L463.2 145.0 L465.0 139.5 L464.5 138.2 L461.4 137.7 L456.8 137.3 L456.4 136.4 L459.5 133.2 L463.2 129.5 L465.0 125.9 L464.1 120.5 L461.8 120.0 L459.5 123.2 L457.7 124.1 L455.0 122.3 L452.7 119.5 L452.3 115.9 L454.1 112.3 L455.9 111.4 L455.0 110.9 L449.5 111.8 L446.8 109.5 L443.2 105.0 L439.5 100.5 L437.7 96.8 L436.8 92.3 L435.9 86.8 L434.0 85.5 L425.8 84.9 L416.0 86.5 L407.0 88.7 L399.6 92.0 L395.0 96.4 L391.0 101.8Z" fill="none" stroke="#26c6c9" stroke-width="1.4" stroke-linejoin="round"/>
<text x="56.5" y="515.3" class="tk">0</text>
<text x="56.5" y="478.5" class="tk">0.5</text>
<text x="56.5" y="441.7" class="tk">1</text>
<text x="56.5" y="404.9" class="tk">1.5</text>
<text x="56.5" y="368.1" class="tk">2</text>
<text x="56.5" y="331.3" class="tk">2.5</text>
<text x="56.5" y="294.5" class="tk">3</text>
<text x="56.5" y="257.7" class="tk">3.5</text>
<line x1="67" y1="511.5" x2="532" y2="511.5" stroke="#d9d9d9" stroke-width="1"/>
<text transform="translate(33 395.3) rotate(-90)" class="yt" style="font-size:10.8px" textLength="188" lengthAdjust="spacingAndGlyphs">New bone formation in inner defect region</text>
<rect x="106.5" y="476" width="35.7" height="35" fill="#1a70c9"/>
<rect x="152.2" y="451.3" width="35.7" height="59.69999999999999" fill="#fe7f26"/>
<rect x="267" y="438" width="35.7" height="73" fill="#1a70c9"/>
<rect x="312.8" y="413" width="35.7" height="98" fill="#fe7f26"/>
<rect x="427.4" y="358.3" width="35.7" height="152.7" fill="#1a70c9"/>
<rect x="473.2" y="393.4" width="35.7" height="117.60000000000002" fill="#fe7f26"/>
<line x1="124.35" y1="456.4" x2="124.35" y2="476" stroke="#7f7f7f" stroke-width="1"/><line x1="122.75" y1="456.4" x2="125.94999999999999" y2="456.4" stroke="#7f7f7f" stroke-width="1"/>
<line x1="170.04999999999998" y1="410.5" x2="170.04999999999998" y2="451.3" stroke="#7f7f7f" stroke-width="1"/><line x1="168.45" y1="410.5" x2="171.64999999999998" y2="410.5" stroke="#7f7f7f" stroke-width="1"/>
<line x1="284.85" y1="429" x2="284.85" y2="438" stroke="#7f7f7f" stroke-width="1"/><line x1="283.25" y1="429" x2="286.45000000000005" y2="429" stroke="#7f7f7f" stroke-width="1"/>
<line x1="330.65000000000003" y1="404.7" x2="330.65000000000003" y2="413" stroke="#7f7f7f" stroke-width="1"/><line x1="329.05" y1="404.7" x2="332.25000000000006" y2="404.7" stroke="#7f7f7f" stroke-width="1"/>
<line x1="445.25" y1="283.2" x2="445.25" y2="358.3" stroke="#7f7f7f" stroke-width="1"/><line x1="443.65" y1="283.2" x2="446.85" y2="283.2" stroke="#7f7f7f" stroke-width="1"/>
<line x1="491.05" y1="352" x2="491.05" y2="393.4" stroke="#7f7f7f" stroke-width="1"/><line x1="489.45" y1="352" x2="492.65000000000003" y2="352" stroke="#7f7f7f" stroke-width="1"/>
<text x="147.3" y="528.5" class="wk" textLength="33" lengthAdjust="spacingAndGlyphs">Week 2</text>
<text x="307.7" y="528.5" class="wk" textLength="33" lengthAdjust="spacingAndGlyphs">Week 4</text>
<text x="468.0" y="528.5" class="wk" textLength="39" lengthAdjust="spacingAndGlyphs">Week 12</text>
<path d="M124.4 322.7V315.5H287V322.7" fill="none" stroke="#464646" stroke-width="1.2"/><text x="206.0" y="313.4" class="st">*</text>
<path d="M287.2 366.3V359H326.8V366.3" fill="none" stroke="#464646" stroke-width="1.2"/><text x="307.6" y="357.1" class="st">*</text>
<rect x="238.2" y="542.6" width="4.6" height="4.7" fill="#1a70c9"/>
<text x="247.2" y="548.5" class="lg" textLength="25" lengthAdjust="spacingAndGlyphs">β-TCP</text>
<rect x="283.2" y="542.6" width="4.6" height="4.7" fill="#fe7f26"/>
<text x="294.6" y="548.5" class="lg" textLength="75.8" lengthAdjust="spacingAndGlyphs">β -TCP/PLLA/PGA</text>
<text x="266.9" y="570.7" class="pl" textLength="20.2" lengthAdjust="spacingAndGlyphs">(D)</text>
<text x="267.7" y="242.9" class="pl" textLength="18.6" lengthAdjust="spacingAndGlyphs">(C)</text>
<text x="52.2" y="878.4" class="tk">0</text>
<text x="52.2" y="847.7" class="tk">0.1</text>
<text x="52.2" y="817.0" class="tk">0.2</text>
<text x="52.2" y="786.3" class="tk">0.3</text>
<text x="52.2" y="755.6" class="tk">0.4</text>
<text x="52.2" y="724.9" class="tk">0.5</text>
<text x="52.2" y="694.2" class="tk">0.6</text>
<text x="52.2" y="663.5" class="tk">0.7</text>
<text x="35.5" y="640.8" class="tk2" style="font-size:11px">g/cm<tspan dy="-3.5" font-size="7.5">3</tspan></text>
<line x1="63" y1="874.5" x2="538" y2="874.5" stroke="#d9d9d9" stroke-width="1"/>
<text transform="translate(27.6 758.5) rotate(-90)" class="yt" textLength="114.5" lengthAdjust="spacingAndGlyphs">BMD of Trabecular bone</text>
<rect x="103" y="731.9" width="36.2" height="142.10000000000002" fill="#1a70c9"/>
<rect x="149.2" y="759.8" width="36.2" height="114.20000000000005" fill="#fe7f26"/>
<rect x="265" y="752.1" width="36.2" height="121.89999999999998" fill="#1a70c9"/>
<rect x="311" y="762" width="36.2" height="112" fill="#fe7f26"/>
<rect x="427.3" y="711.4" width="36.2" height="162.60000000000002" fill="#1a70c9"/>
<rect x="473.3" y="759.5" width="36.2" height="114.5" fill="#fe7f26"/>
<line x1="121.1" y1="696" x2="121.1" y2="731.9" stroke="#7f7f7f" stroke-width="1"/><line x1="119.5" y1="696" x2="122.69999999999999" y2="696" stroke="#7f7f7f" stroke-width="1"/>
<line x1="167.29999999999998" y1="744.1" x2="167.29999999999998" y2="759.8" stroke="#7f7f7f" stroke-width="1"/><line x1="165.7" y1="744.1" x2="168.89999999999998" y2="744.1" stroke="#7f7f7f" stroke-width="1"/>
<line x1="283.1" y1="721.4" x2="283.1" y2="752.1" stroke="#7f7f7f" stroke-width="1"/><line x1="281.5" y1="721.4" x2="284.70000000000005" y2="721.4" stroke="#7f7f7f" stroke-width="1"/>
<line x1="329.1" y1="744.3" x2="329.1" y2="762" stroke="#7f7f7f" stroke-width="1"/><line x1="327.5" y1="744.3" x2="330.70000000000005" y2="744.3" stroke="#7f7f7f" stroke-width="1"/>
<line x1="445.40000000000003" y1="693.2" x2="445.40000000000003" y2="711.4" stroke="#7f7f7f" stroke-width="1"/><line x1="443.8" y1="693.2" x2="447.00000000000006" y2="693.2" stroke="#7f7f7f" stroke-width="1"/>
<line x1="491.40000000000003" y1="744.3" x2="491.40000000000003" y2="759.5" stroke="#7f7f7f" stroke-width="1"/><line x1="489.8" y1="744.3" x2="493.00000000000006" y2="744.3" stroke="#7f7f7f" stroke-width="1"/>
<text x="143.9" y="893.5" class="wk" style="font-size:10.9px" textLength="35" lengthAdjust="spacingAndGlyphs">Week 2</text>
<text x="306" y="893.5" class="wk" style="font-size:10.9px" textLength="35" lengthAdjust="spacingAndGlyphs">Week 4</text>
<text x="468.2" y="893.5" class="wk" style="font-size:10.9px" textLength="41" lengthAdjust="spacingAndGlyphs">Week 12</text>
<path d="M164.8 598.8000000000001V591.2H484.4V598.8000000000001" fill="none" stroke="#464646" stroke-width="1.2"/><text x="313.9" y="587.8" class="st">*</text><text x="320.1" y="587.8" class="st">*</text>
<path d="M121.3 615.8V607.5H440.7V615.8" fill="none" stroke="#464646" stroke-width="1.2"/><text x="281.8" y="605.8" class="st">*</text>
<path d="M325.8 637.4V629H484.4V637.4" fill="none" stroke="#464646" stroke-width="1.2"/><text x="405.6" y="625.8" class="st">*</text><text x="411.8" y="625.8" class="st">*</text>
<path d="M281.1 653.1V645.2H440.7V653.1" fill="none" stroke="#464646" stroke-width="1.2"/><text x="361.8" y="642.8" class="st">*</text>
<path d="M166.4 669.1999999999999V661.4H325.8V669.1999999999999" fill="none" stroke="#464646" stroke-width="1.2"/><text x="236.8" y="658.3" class="st">*</text><text x="243.2" y="658.3" class="st">*</text>
<path d="M121.3 684.1V676.1H281.1V684.1" fill="none" stroke="#464646" stroke-width="1.2"/><text x="202.2" y="673.8" class="st">*</text>
<path d="M446.5 683.9V675.9H489.3V683.9" fill="none" stroke="#464646" stroke-width="1.2"/><text x="468.8" y="673.8" class="st">*</text>
<rect x="232.6" y="907" width="5.5" height="5.8" fill="#1a70c9"/>
<text x="241.9" y="913" class="lg" style="font-size:11.5px" textLength="26.7" lengthAdjust="spacingAndGlyphs">β-TCP</text>
<rect x="280" y="907" width="5.5" height="5.8" fill="#fe7f26"/>
<text x="291.8" y="913" class="lg" style="font-size:11.5px" textLength="81" lengthAdjust="spacingAndGlyphs">β -TCP/PLLA/PGA</text>
<text x="268.1" y="936.9" class="pl" textLength="17.3" lengthAdjust="spacingAndGlyphs">(E)</text>
</svg>
</body></html>
